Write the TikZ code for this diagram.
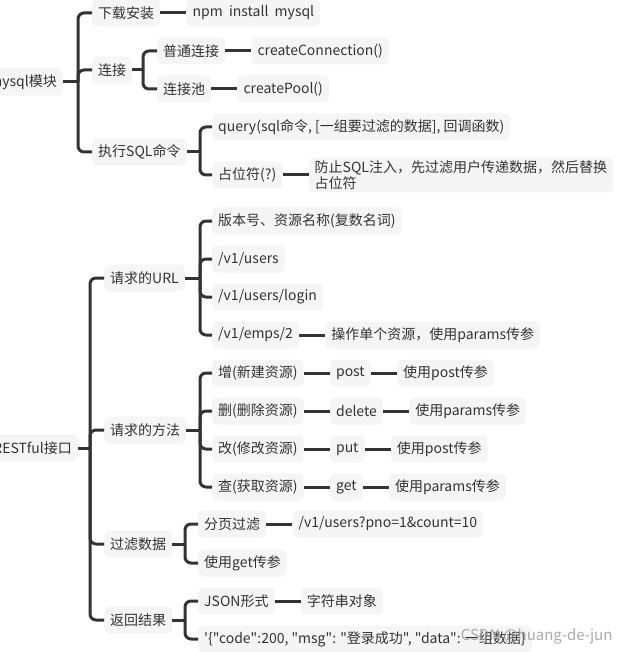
\documentclass[tikz,border=0pt]{standalone}
\usepackage{fontspec}
\newfontfamily\zhfont{Noto Sans CJK SC}
\usepackage{xcolor}
\usepackage{tikz}
\usetikzlibrary{positioning}
\definecolor{boxfill}{HTML}{F5F5F5}
\definecolor{linedraw}{HTML}{333333}
\definecolor{txt}{HTML}{333333}
\definecolor{wmk}{HTML}{9C9C9C}
\tikzset{
  topic/.style={rectangle, rounded corners=5pt, fill=boxfill, text=txt, font=\zhfont\fontsize{14pt}{16pt}\selectfont, inner xsep=6pt, inner ysep=3pt, minimum height=27pt, align=left},
  subtopic/.style={topic, anchor=west},
  conn/.style={line width=3pt, draw=linedraw},
  branch/.style={conn, rounded corners=6pt},
  wm/.style={font=\zhfont\fontsize{15pt}{17pt}\selectfont, text=wmk, opacity=0.85},
}

\begin{document}
\begin{tikzpicture}[x=1pt, y=-1pt, node distance=26pt]
  \useasboundingbox (0,0) rectangle (631,652);
  \node[topic, anchor=east] (mysql) at (63,82) {mysql模块};
  \node[subtopic] (install) at (92,13) {下载安装};
  \node[topic, right=of install] (npm) {npm\ \ install\ \ mysql};
  \node[subtopic] (link) at (92,70) {连接};
  \node[subtopic] (plain) at (157,51) {普通连接};
  \node[topic, right=of plain] (createconn) {createConnection()};
  \node[subtopic] (pool) at (157,89) {连接池};
  \node[topic, right=of pool] (createpool) {createPool()};
  \node[subtopic] (exec) at (92,152) {执行SQL命令};
  \node[subtopic] (query) at (212,127) {query(sql命令, [一组要过滤的数据], 回调函数)};
  \node[subtopic] (holder) at (212,175) {占位符(?)};
  \node[topic, right=of holder] (inject) {防止SQL注入，先过滤用户传递数据，然后替换\\占位符};

  \node[topic, anchor=east] (rest) at (78,448) {RESTful接口};
  \node[subtopic] (url) at (104,278) {请求的URL};
  \node[subtopic] (url1) at (212,221) {版本号、资源名称(复数名词)};
  \node[subtopic] (url2) at (212,259) {/v1/users};
  \node[subtopic] (url3) at (212,297) {/v1/users/login};
  \node[subtopic] (url4) at (212,335) {/v1/emps/2};
  \node[topic, right=of url4] (url4note) {操作单个资源，使用params传参};
  \node[subtopic] (method) at (104,430) {请求的方法};
  \node[subtopic] (add) at (212,373) {增(新建资源)};
  \node[topic, right=of add] (post) {post};
  \node[topic, right=of post] (postnote) {使用post传参};
  \node[subtopic] (del) at (212,411) {删(删除资源)};
  \node[topic, right=of del] (delete) {delete};
  \node[topic, right=of delete] (deletenote) {使用params传参};
  \node[subtopic] (mod) at (212,449) {改(修改资源)};
  \node[topic, right=of mod] (put) {put};
  \node[topic, right=of put] (putnote) {使用post传参};
  \node[subtopic] (qry) at (212,487) {查(获取资源)};
  \node[topic, right=of qry] (get) {get};
  \node[topic, right=of get] (getnote) {使用params传参};
  \node[subtopic] (filter) at (104,544) {过滤数据};
  \node[subtopic] (page) at (198,524) {分页过滤};
  \node[topic, right=of page] (pageurl) {/v1/users?pno=1\&count=10};
  \node[subtopic] (useget) at (198,563) {使用get传参};
  \node[subtopic] (result) at (104,620) {返回结果};
  \node[subtopic] (json) at (198,601) {JSON形式};
  \node[topic, right=of json] (jsonstr) {字符串对象};
  \node[subtopic] (sample) at (198,639) {'\{"code":200, "msg": "登录成功", "data": 一组数据\}};

  \coordinate (mysqlb) at (78,82);
  \draw[conn] (mysql.east) -- (mysqlb);
  \draw[branch] (mysqlb) |- (install.west);
  \draw[branch] (mysqlb) |- (link.west);
  \draw[branch] (mysqlb) |- (exec.west);
  \draw[conn] (install) -- (npm);
  \coordinate (linkb) at (143,70);
  \draw[conn] (link.east) -- (linkb);
  \draw[branch] (linkb) |- (plain.west);
  \draw[branch] (linkb) |- (pool.west);
  \draw[conn] (plain) -- (createconn);
  \draw[conn] (pool) -- (createpool);
  \coordinate (execb) at (200,152);
  \draw[conn] (exec.east) -- (execb);
  \draw[branch] (execb) |- (query.west);
  \draw[branch] (execb) |- (holder.west);
  \draw[conn] (holder) -- (inject);

  \coordinate (restb) at (90,448);
  \draw[conn] (rest.east) -- (restb);
  \draw[branch] (restb) |- (url.west);
  \draw[branch] (restb) |- (method.west);
  \draw[branch] (restb) |- (filter.west);
  \draw[branch] (restb) |- (result.west);
  \coordinate (urlb) at (200,278);
  \draw[conn] (url.east) -- (urlb);
  \draw[branch] (urlb) |- (url1.west);
  \draw[branch] (urlb) |- (url2.west);
  \draw[branch] (urlb) |- (url3.west);
  \draw[branch] (urlb) |- (url4.west);
  \draw[conn] (url4) -- (url4note);
  \coordinate (methodb) at (200,430);
  \draw[conn] (method.east) -- (methodb);
  \draw[branch] (methodb) |- (add.west);
  \draw[branch] (methodb) |- (del.west);
  \draw[branch] (methodb) |- (mod.west);
  \draw[branch] (methodb) |- (qry.west);
  \draw[conn] (add) -- (post);
  \draw[conn] (post) -- (postnote);
  \draw[conn] (del) -- (delete);
  \draw[conn] (delete) -- (deletenote);
  \draw[conn] (mod) -- (put);
  \draw[conn] (put) -- (putnote);
  \draw[conn] (qry) -- (get);
  \draw[conn] (get) -- (getnote);
  \coordinate (filterb) at (185,544);
  \draw[conn] (filter.east) -- (filterb);
  \draw[branch] (filterb) |- (page.west);
  \draw[branch] (filterb) |- (useget.west);
  \draw[conn] (page) -- (pageurl);
  \coordinate (resultb) at (185,620);
  \draw[conn] (result.east) -- (resultb);
  \draw[branch] (resultb) |- (json.west);
  \draw[branch] (resultb) |- (sample.west);
  \draw[conn] (json) -- (jsonstr);

  \node[wm, anchor=east] (wmark) at (616,636) {CSDN @huang-de-jun};
\end{tikzpicture}
\end{document}
